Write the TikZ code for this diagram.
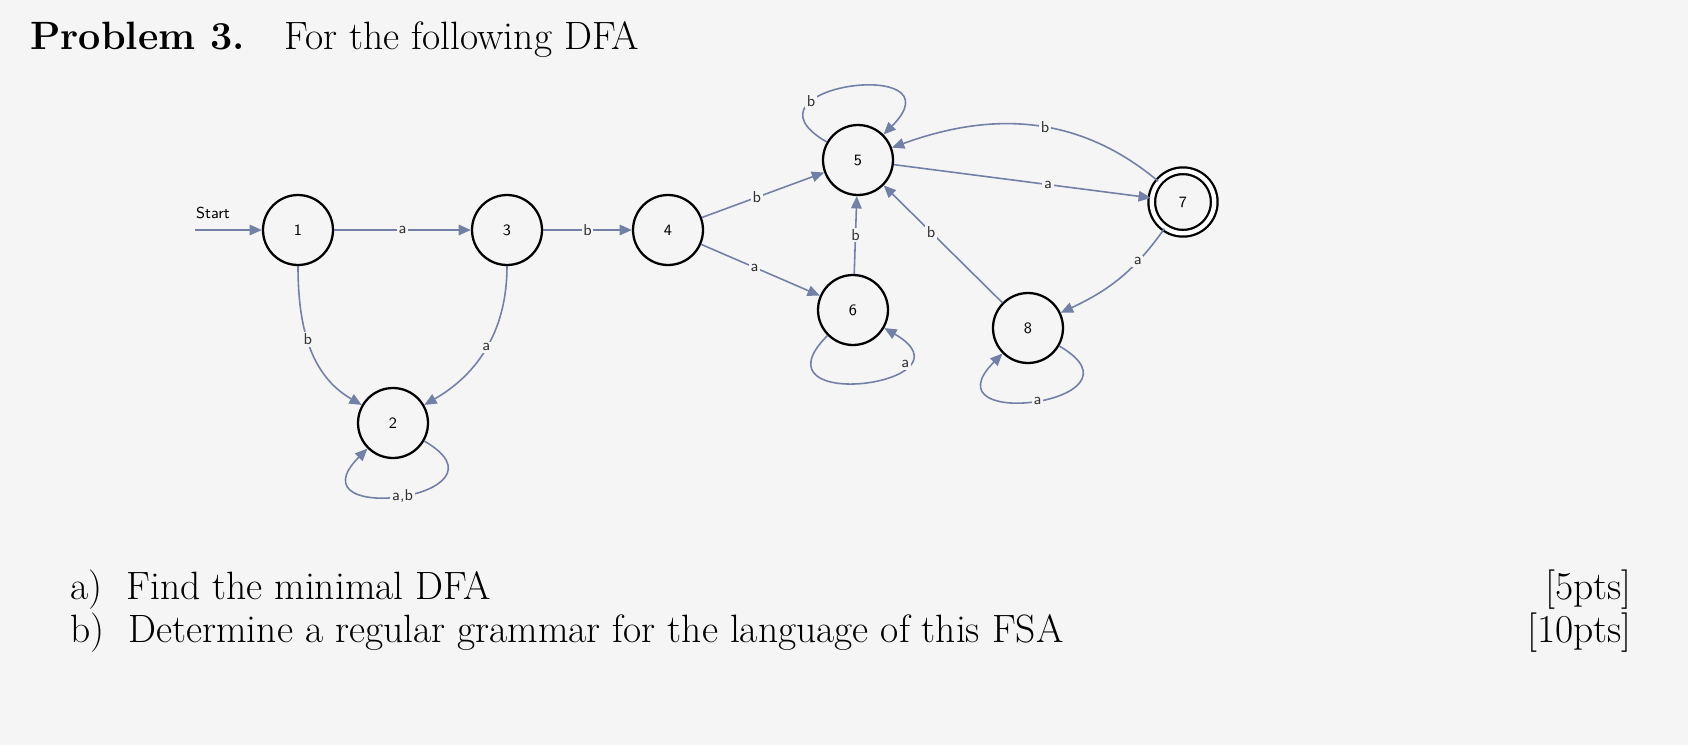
\documentclass[tikz,border=0pt]{standalone}
\usetikzlibrary{arrows.meta}
\definecolor{edc}{rgb}{0.45,0.5,0.65}
\begin{document}
\begin{tikzpicture}[x=0.02cm,y=-0.02cm,
  st/.style={circle,draw=black,line width=1.3pt,minimum size=1.4cm,inner sep=0pt,font=\fontsize{9}{10}\sffamily},
  acc/.style={st,double,double distance=2.5pt,minimum size=1.25cm},
  ed/.style={draw=edc,line width=0.9pt,-{Triangle[length=7pt,width=6pt]}},
  lb/.style={font=\fontsize{9}{10}\sffamily,text=black!80,inner sep=1pt,fill=gray!8},
  big/.style={font=\fontsize{22.5}{27}\selectfont,anchor=west,inner sep=0pt}]
\fill[gray!8] (0,0) rectangle (1688,745);
\useasboundingbox (0,0) rectangle (1688,745);
\node[big] (t1) at (30,40) {\textbf{Problem 3.}\quad For the following DFA};
\node[big] (ta) at (70,590) {a)\ \ Find the minimal DFA};
\node[big] (tb) at (70,633) {b)\ \ Determine a regular grammar for the language of this FSA};
\node[big,anchor=east] (pa) at (1632,590) {[5pts]};
\node[big,anchor=east] (pb) at (1632,633) {[10pts]};

\node[st] (1) at (298,230) {1};
\node[st] (3) at (507,230) {3};
\node[st] (4) at (668,230) {4};
\node[st] (5) at (858,160) {5};
\node[st] (6) at (853,310) {6};
\node[acc] (7) at (1183,202) {7};
\node[st] (8) at (1028,328) {8};
\node[st] (2) at (393,423) {2};

\coordinate (s) at (195,230);
\node[font=\fontsize{9}{10}\sffamily] (sl) at (213,213) {Start};
\draw[ed] (s) -- (1);
\draw[ed] (1) -- node[lb]{a} (3);
\draw[ed] (3) -- node[lb]{b} (4);
\draw[ed] (4) -- node[lb,pos=0.45]{b} (5);
\draw[ed] (4) -- node[lb,pos=0.45]{a} (6);
\draw[ed] (6) -- node[lb]{b} (5);
\draw[ed] (8) -- node[lb,pos=0.6]{b} (5);
\draw[ed] (5) -- node[lb,pos=0.6]{a} (7);
\draw[ed] (7) to[out=140,in=20] node[lb,pos=0.45]{b} (5);
\draw[ed] (7) to[out=235,in=25] node[lb,pos=0.3]{a} (8);
\draw[ed] (1) to[out=-90,in=150] node[lb,pos=0.45]{b} (2);
\draw[ed] (3) to[out=-90,in=30] node[lb,pos=0.5]{a} (2);
\draw[ed] (5) to[out=150,in=45,looseness=5] node[lb,pos=0.3]{b} (5);
\draw[ed] (6) to[out=-135,in=-30,looseness=5] node[lb,pos=0.75]{a} (6);
\draw[ed] (8) to[out=-30,in=-135,looseness=5] node[lb,pos=0.5]{a} (8);
\draw[ed] (2) to[out=-30,in=-135,looseness=5] node[lb,pos=0.5]{a,b} (2);
\end{tikzpicture}
\end{document}
